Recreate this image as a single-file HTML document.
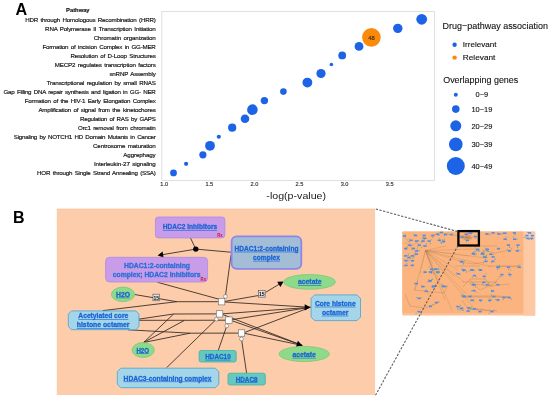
<!DOCTYPE html>
<html><head><meta charset="utf-8"><style>
html,body{margin:0;padding:0;background:#fff;}
svg{display:block;}
</style></head><body>
<svg width="550" height="398" viewBox="0 0 550 398">
<rect width="550" height="398" fill="#fff"/>
<text x="15.6" y="14.6" font-family="'Liberation Sans', Arial, sans-serif" font-weight="bold" font-size="15.7" fill="#000" textLength="11.7" lengthAdjust="spacingAndGlyphs">A</text>
<text x="66.1" y="12.0" font-family="'Liberation Sans', Arial, sans-serif" font-weight="bold" font-size="5.9" fill="#111" stroke="#111" stroke-width="0.15" textLength="23.5" lengthAdjust="spacingAndGlyphs">Pathway</text>
<rect x="161.8" y="11.6" width="272.6" height="168.8" fill="#fff" stroke="#dcdcdc" stroke-width="0.9"/>
<text x="155.6" y="21.55" text-anchor="end" font-family="'Liberation Sans', Arial, sans-serif" font-size="6.2" fill="#111" stroke="#111" stroke-width="0.16" style="letter-spacing:-0.199px;word-spacing:1.0px">HDR through Homologous Recombination (HRR)</text>
<circle cx="421.7" cy="19.30" r="5.4" fill="#1d63e6"/>
<text x="155.6" y="30.59" text-anchor="end" font-family="'Liberation Sans', Arial, sans-serif" font-size="6.2" fill="#111" stroke="#111" stroke-width="0.16" style="letter-spacing:-0.183px;word-spacing:1.0px">RNA Polymerase II Transcription Initiation</text>
<circle cx="397.8" cy="28.34" r="4.7" fill="#1d63e6"/>
<text x="155.6" y="39.62" text-anchor="end" font-family="'Liberation Sans', Arial, sans-serif" font-size="6.2" fill="#111" stroke="#111" stroke-width="0.16" style="letter-spacing:-0.139px;word-spacing:1.0px">Chromatin organization</text>
<circle cx="371.4" cy="37.37" r="9.3" fill="#fb8a0c"/>
<text x="155.6" y="48.66" text-anchor="end" font-family="'Liberation Sans', Arial, sans-serif" font-size="6.2" fill="#111" stroke="#111" stroke-width="0.16" style="letter-spacing:-0.225px;word-spacing:1.0px">Formation of incision Complex in GG-MER</text>
<circle cx="359.0" cy="46.41" r="4.4" fill="#1d63e6"/>
<text x="155.6" y="57.69" text-anchor="end" font-family="'Liberation Sans', Arial, sans-serif" font-size="6.2" fill="#111" stroke="#111" stroke-width="0.16" style="letter-spacing:-0.189px;word-spacing:1.0px">Resolution of D-Loop Structures</text>
<circle cx="342.2" cy="55.44" r="3.9" fill="#1d63e6"/>
<text x="155.6" y="66.72" text-anchor="end" font-family="'Liberation Sans', Arial, sans-serif" font-size="6.2" fill="#111" stroke="#111" stroke-width="0.16" style="letter-spacing:-0.172px;word-spacing:1.0px">MECP2 regulates transcription factors</text>
<circle cx="331.4" cy="64.47" r="1.8" fill="#1d63e6"/>
<text x="155.6" y="75.76" text-anchor="end" font-family="'Liberation Sans', Arial, sans-serif" font-size="6.2" fill="#111" stroke="#111" stroke-width="0.16" style="letter-spacing:-0.182px;word-spacing:1.0px">snRNP Assembly</text>
<circle cx="321.0" cy="73.51" r="4.6" fill="#1d63e6"/>
<text x="155.6" y="84.80" text-anchor="end" font-family="'Liberation Sans', Arial, sans-serif" font-size="6.2" fill="#111" stroke="#111" stroke-width="0.16" style="letter-spacing:-0.191px;word-spacing:1.0px">Transcriptional regulation by small RNAS</text>
<circle cx="307.4" cy="82.55" r="4.9" fill="#1d63e6"/>
<text x="155.6" y="93.83" text-anchor="end" font-family="'Liberation Sans', Arial, sans-serif" font-size="6.2" fill="#111" stroke="#111" stroke-width="0.16" style="letter-spacing:-0.251px;word-spacing:1.0px">Gap Filling DNA repair synthesis and ligation in GG- NER</text>
<circle cx="283.4" cy="91.58" r="3.3" fill="#1d63e6"/>
<text x="155.6" y="102.86" text-anchor="end" font-family="'Liberation Sans', Arial, sans-serif" font-size="6.2" fill="#111" stroke="#111" stroke-width="0.16" style="letter-spacing:-0.221px;word-spacing:1.0px">Formation of the HIV-1 Early Elongation Complex</text>
<circle cx="264.4" cy="100.61" r="3.7" fill="#1d63e6"/>
<text x="155.6" y="111.90" text-anchor="end" font-family="'Liberation Sans', Arial, sans-serif" font-size="6.2" fill="#111" stroke="#111" stroke-width="0.16" style="letter-spacing:-0.198px;word-spacing:1.0px">Amplification of signal from the kinetochores</text>
<circle cx="252.4" cy="109.65" r="5.3" fill="#1d63e6"/>
<text x="155.6" y="120.94" text-anchor="end" font-family="'Liberation Sans', Arial, sans-serif" font-size="6.2" fill="#111" stroke="#111" stroke-width="0.16" style="letter-spacing:-0.261px;word-spacing:1.0px">Regulation of RAS by GAPS</text>
<circle cx="245.0" cy="118.69" r="4.3" fill="#1d63e6"/>
<text x="155.6" y="129.97" text-anchor="end" font-family="'Liberation Sans', Arial, sans-serif" font-size="6.2" fill="#111" stroke="#111" stroke-width="0.16" style="letter-spacing:-0.207px;word-spacing:1.0px">Orc1 removal from chromatin</text>
<circle cx="232.2" cy="127.72" r="4.1" fill="#1d63e6"/>
<text x="155.6" y="139.00" text-anchor="end" font-family="'Liberation Sans', Arial, sans-serif" font-size="6.2" fill="#111" stroke="#111" stroke-width="0.16" style="letter-spacing:-0.250px;word-spacing:1.0px">Signaling by NOTCH1 HD Domain Mutants in Cancer</text>
<circle cx="218.8" cy="136.75" r="2.1" fill="#1d63e6"/>
<text x="155.6" y="148.04" text-anchor="end" font-family="'Liberation Sans', Arial, sans-serif" font-size="6.2" fill="#111" stroke="#111" stroke-width="0.16" style="letter-spacing:-0.147px;word-spacing:1.0px">Centrosome maturation</text>
<circle cx="210.0" cy="145.79" r="4.9" fill="#1d63e6"/>
<text x="155.6" y="157.08" text-anchor="end" font-family="'Liberation Sans', Arial, sans-serif" font-size="6.2" fill="#111" stroke="#111" stroke-width="0.16" style="letter-spacing:-0.108px;word-spacing:1.0px">Aggrephagy</text>
<circle cx="202.9" cy="154.83" r="3.6" fill="#1d63e6"/>
<text x="155.6" y="166.11" text-anchor="end" font-family="'Liberation Sans', Arial, sans-serif" font-size="6.2" fill="#111" stroke="#111" stroke-width="0.16" style="letter-spacing:-0.127px;word-spacing:1.0px">Interleukin-27 signaling</text>
<circle cx="186.1" cy="163.86" r="2.1" fill="#1d63e6"/>
<text x="155.6" y="175.15" text-anchor="end" font-family="'Liberation Sans', Arial, sans-serif" font-size="6.2" fill="#111" stroke="#111" stroke-width="0.16" style="letter-spacing:-0.218px;word-spacing:1.0px">HOR through Single Strand Annealing (SSA)</text>
<circle cx="173.5" cy="172.90" r="3.4" fill="#1d63e6"/>
<text x="371.4" y="39.5" text-anchor="middle" font-family="'Liberation Sans', Arial, sans-serif" font-size="5.8" fill="#3a2608" stroke="#3a2608" stroke-width="0.12">48</text>
<text x="164.2" y="186.0" text-anchor="middle" font-family="'Liberation Sans', Arial, sans-serif" font-size="5.6" fill="#333" stroke="#333" stroke-width="0.15">1.0</text>
<text x="209.3" y="186.0" text-anchor="middle" font-family="'Liberation Sans', Arial, sans-serif" font-size="5.6" fill="#333" stroke="#333" stroke-width="0.15">1.5</text>
<text x="254.4" y="186.0" text-anchor="middle" font-family="'Liberation Sans', Arial, sans-serif" font-size="5.6" fill="#333" stroke="#333" stroke-width="0.15">2.0</text>
<text x="299.5" y="186.0" text-anchor="middle" font-family="'Liberation Sans', Arial, sans-serif" font-size="5.6" fill="#333" stroke="#333" stroke-width="0.15">2.5</text>
<text x="344.6" y="186.0" text-anchor="middle" font-family="'Liberation Sans', Arial, sans-serif" font-size="5.6" fill="#333" stroke="#333" stroke-width="0.15">3.0</text>
<text x="389.7" y="186.0" text-anchor="middle" font-family="'Liberation Sans', Arial, sans-serif" font-size="5.6" fill="#333" stroke="#333" stroke-width="0.15">3.5</text>
<text x="296.2" y="199.0" text-anchor="middle" font-family="'Liberation Sans', Arial, sans-serif" font-size="9.6" fill="#1a1a1a" textLength="59.7" lengthAdjust="spacingAndGlyphs">-log(p-value)</text>
<text x="442.6" y="29.3" font-family="'Liberation Sans', Arial, sans-serif" font-size="9.6" fill="#111" stroke="#111" stroke-width="0.1" textLength="105.4" lengthAdjust="spacingAndGlyphs">Drug&#8722;pathway association</text>
<circle cx="454.6" cy="44.8" r="2.2" fill="#1d63e6"/>
<circle cx="454.6" cy="57.6" r="2.2" fill="#fb8a0c"/>
<text x="462.8" y="46.9" font-family="'Liberation Sans', Arial, sans-serif" font-size="7.7" fill="#111" stroke="#111" stroke-width="0.12" textLength="33.7" lengthAdjust="spacingAndGlyphs">Irrelevant</text>
<text x="462.8" y="59.9" font-family="'Liberation Sans', Arial, sans-serif" font-size="7.7" fill="#111" stroke="#111" stroke-width="0.12" textLength="32.6" lengthAdjust="spacingAndGlyphs">Relevant</text>
<text x="443.2" y="82.9" font-family="'Liberation Sans', Arial, sans-serif" font-size="9.6" fill="#111" stroke="#111" stroke-width="0.1" textLength="75.1" lengthAdjust="spacingAndGlyphs">Overlapping genes</text>
<circle cx="455.8" cy="94.7" r="2.0" fill="#1d63e6"/>
<text x="475.5" y="97.4" font-family="'Liberation Sans', Arial, sans-serif" font-size="7.6" fill="#111" stroke="#111" stroke-width="0.12" textLength="12.6" lengthAdjust="spacingAndGlyphs">0&#8722;9</text>
<circle cx="455.8" cy="109.1" r="3.8" fill="#1d63e6"/>
<text x="471.4" y="111.8" font-family="'Liberation Sans', Arial, sans-serif" font-size="7.6" fill="#111" stroke="#111" stroke-width="0.12" textLength="21.0" lengthAdjust="spacingAndGlyphs">10&#8722;19</text>
<circle cx="455.8" cy="125.8" r="5.5" fill="#1d63e6"/>
<text x="471.4" y="128.5" font-family="'Liberation Sans', Arial, sans-serif" font-size="7.6" fill="#111" stroke="#111" stroke-width="0.12" textLength="21.0" lengthAdjust="spacingAndGlyphs">20&#8722;29</text>
<circle cx="455.8" cy="144.4" r="6.8" fill="#1d63e6"/>
<text x="471.4" y="147.1" font-family="'Liberation Sans', Arial, sans-serif" font-size="7.6" fill="#111" stroke="#111" stroke-width="0.12" textLength="21.0" lengthAdjust="spacingAndGlyphs">30&#8722;39</text>
<circle cx="455.8" cy="166.0" r="9.0" fill="#1d63e6"/>
<text x="471.4" y="168.7" font-family="'Liberation Sans', Arial, sans-serif" font-size="7.6" fill="#111" stroke="#111" stroke-width="0.12" textLength="21.0" lengthAdjust="spacingAndGlyphs">40&#8722;49</text>
<text x="13.0" y="222.5" font-family="'Liberation Sans', Arial, sans-serif" font-weight="bold" font-size="16" fill="#000">B</text>
<rect x="56.8" y="208.8" width="318.3" height="186.2" fill="#fdcdab"/>
<rect x="56.8" y="208.8" width="318.3" height="0.8" fill="#fcc39e"/>
<rect x="402.3" y="231.4" width="132.9" height="84.2" rx="0.8" fill="#fcc199"/>
<rect x="523.4" y="231.6" width="11.8" height="84.0" fill="#fdc9a5"/>
<rect x="402.3" y="231.4" width="121.1" height="81.8" rx="0.8" fill="#fbb47f"/>
<line x1="425.4" y1="250.5" x2="446" y2="246" stroke="#b07c4e" stroke-width="0.32" opacity="0.85"/>
<line x1="425.4" y1="250.5" x2="476" y2="249" stroke="#b07c4e" stroke-width="0.32" opacity="0.85"/>
<line x1="425.4" y1="250.5" x2="492" y2="267" stroke="#b07c4e" stroke-width="0.32" opacity="0.85"/>
<line x1="425.4" y1="250.5" x2="462" y2="262" stroke="#b07c4e" stroke-width="0.32" opacity="0.85"/>
<line x1="425.4" y1="250.5" x2="458" y2="270" stroke="#b07c4e" stroke-width="0.32" opacity="0.85"/>
<line x1="425.4" y1="250.5" x2="464" y2="282" stroke="#b07c4e" stroke-width="0.32" opacity="0.85"/>
<line x1="425.4" y1="250.5" x2="466" y2="294" stroke="#b07c4e" stroke-width="0.32" opacity="0.85"/>
<line x1="425.4" y1="250.5" x2="474" y2="308" stroke="#b07c4e" stroke-width="0.32" opacity="0.85"/>
<line x1="425.4" y1="250.5" x2="433" y2="264" stroke="#b07c4e" stroke-width="0.32" opacity="0.85"/>
<line x1="425.4" y1="250.5" x2="434" y2="275" stroke="#b07c4e" stroke-width="0.32" opacity="0.85"/>
<line x1="425.4" y1="250.5" x2="438" y2="283" stroke="#b07c4e" stroke-width="0.32" opacity="0.85"/>
<line x1="425.4" y1="250.5" x2="445" y2="300" stroke="#b07c4e" stroke-width="0.32" opacity="0.85"/>
<line x1="425.4" y1="250.5" x2="452" y2="310" stroke="#b07c4e" stroke-width="0.32" opacity="0.85"/>
<line x1="425.4" y1="250.5" x2="420" y2="274" stroke="#b07c4e" stroke-width="0.32" opacity="0.85"/>
<line x1="425.4" y1="250.5" x2="415" y2="290" stroke="#b07c4e" stroke-width="0.32" opacity="0.85"/>
<line x1="425.4" y1="250.5" x2="470" y2="256" stroke="#b07c4e" stroke-width="0.32" opacity="0.85"/>
<line x1="425.4" y1="250.5" x2="455" y2="277" stroke="#b07c4e" stroke-width="0.32" opacity="0.85"/>
<line x1="425.4" y1="250.5" x2="486" y2="258" stroke="#b07c4e" stroke-width="0.32" opacity="0.85"/>
<polyline points="455,266 480,266" fill="none" stroke="#b07c4e" stroke-width="0.35"/>
<polyline points="488,266 520,266" fill="none" stroke="#b07c4e" stroke-width="0.35"/>
<polyline points="462,282 497,282" fill="none" stroke="#b07c4e" stroke-width="0.35"/>
<polyline points="462,297 510,297" fill="none" stroke="#b07c4e" stroke-width="0.35"/>
<polyline points="468,308 497,311" fill="none" stroke="#b07c4e" stroke-width="0.35"/>
<polyline points="470,246 497,246" fill="none" stroke="#b07c4e" stroke-width="0.35"/>
<polyline points="463,287 470,279 485,279 492,287" fill="none" stroke="#b07c4e" stroke-width="0.35"/>
<polyline points="404,236 412,246 418,241" fill="none" stroke="#b07c4e" stroke-width="0.35"/>
<polyline points="405,242 416,252 410,258" fill="none" stroke="#b07c4e" stroke-width="0.35"/>
<polyline points="417,283 414,290 444,293 448,285" fill="none" stroke="#b07c4e" stroke-width="0.35"/>
<polyline points="405,294 410,306 425,308 440,302" fill="none" stroke="#b07c4e" stroke-width="0.35"/>
<polyline points="460,296 475,296 497,296 510,297" fill="none" stroke="#b07c4e" stroke-width="0.35"/>
<polyline points="462,300 468,309 492,311" fill="none" stroke="#b07c4e" stroke-width="0.35"/>
<polyline points="470,280 480,290 495,283 500,276" fill="none" stroke="#b07c4e" stroke-width="0.35"/>
<polyline points="460,262 473,264 485,262" fill="none" stroke="#b07c4e" stroke-width="0.35"/>
<polyline points="482,250 495,253 510,250" fill="none" stroke="#b07c4e" stroke-width="0.35"/>
<polyline points="446,234 460,236 470,233" fill="none" stroke="#b07c4e" stroke-width="0.35"/>
<polyline points="430,236 440,233" fill="none" stroke="#b07c4e" stroke-width="0.35"/>
<polyline points="474,284 490,286 510,284" fill="none" stroke="#b07c4e" stroke-width="0.35"/>
<polyline points="496,266 520,267" fill="none" stroke="#b07c4e" stroke-width="0.35"/>
<rect x="485.5" y="233.2" width="3.2" height="1.6" fill="#5a86ee"/>
<rect x="491.5" y="232.1" width="3.2" height="1.6" fill="#5a86ee"/>
<rect x="497.3" y="233.2" width="3.2" height="1.6" fill="#5a86ee"/>
<rect x="502.9" y="232.4" width="3.2" height="1.6" fill="#5a86ee"/>
<rect x="512.8" y="232.1" width="3.2" height="1.6" fill="#5a86ee"/>
<rect x="503.5" y="238.4" width="3.2" height="1.6" fill="#5a86ee"/>
<rect x="513.1" y="238.4" width="3.2" height="1.6" fill="#5a86ee"/>
<rect x="506.8" y="244.3" width="3.2" height="1.6" fill="#5a86ee"/>
<rect x="516.4" y="244.3" width="3.2" height="1.6" fill="#5a86ee"/>
<rect x="507.8" y="250.1" width="3.2" height="1.6" fill="#5a86ee"/>
<rect x="515.7" y="250.1" width="3.2" height="1.6" fill="#5a86ee"/>
<rect x="496.9" y="247.9" width="3.2" height="1.6" fill="#5a86ee"/>
<rect x="485.5" y="248.5" width="3.2" height="1.6" fill="#5a86ee"/>
<rect x="481.1" y="252.8" width="3.2" height="1.6" fill="#5a86ee"/>
<rect x="489.3" y="253.4" width="3.2" height="1.6" fill="#5a86ee"/>
<rect x="483.3" y="256.4" width="3.2" height="1.6" fill="#5a86ee"/>
<rect x="491.5" y="256.1" width="3.2" height="1.6" fill="#5a86ee"/>
<rect x="484.4" y="260.5" width="3.2" height="1.6" fill="#5a86ee"/>
<rect x="491.3" y="260.5" width="3.2" height="1.6" fill="#5a86ee"/>
<rect x="496.9" y="266.5" width="3.2" height="1.6" fill="#5a86ee"/>
<rect x="506.8" y="266.5" width="3.2" height="1.6" fill="#5a86ee"/>
<rect x="517.7" y="266.5" width="3.2" height="1.6" fill="#5a86ee"/>
<rect x="528.0" y="232.1" width="3.2" height="1.6" fill="#5a86ee"/>
<rect x="525.3" y="234.8" width="3.2" height="1.6" fill="#5a86ee"/>
<rect x="530.7" y="234.8" width="3.2" height="1.6" fill="#5a86ee"/>
<rect x="526.4" y="237.6" width="3.2" height="1.6" fill="#5a86ee"/>
<rect x="530.2" y="237.6" width="3.2" height="1.6" fill="#5a86ee"/>
<rect x="404.4" y="259.9" width="3.2" height="1.6" fill="#5a86ee"/>
<rect x="410.9" y="259.9" width="3.2" height="1.6" fill="#5a86ee"/>
<rect x="404.4" y="264.6" width="3.2" height="1.6" fill="#5a86ee"/>
<rect x="410.6" y="264.6" width="3.2" height="1.6" fill="#5a86ee"/>
<rect x="430.0" y="268.4" width="3.2" height="1.6" fill="#5a86ee"/>
<rect x="434.4" y="268.4" width="3.2" height="1.6" fill="#5a86ee"/>
<rect x="423.5" y="271.4" width="3.2" height="1.6" fill="#5a86ee"/>
<rect x="428.9" y="271.4" width="3.2" height="1.6" fill="#5a86ee"/>
<rect x="436.0" y="271.4" width="3.2" height="1.6" fill="#5a86ee"/>
<rect x="428.4" y="280.1" width="3.2" height="1.6" fill="#5a86ee"/>
<rect x="414.8" y="282.8" width="3.2" height="1.6" fill="#5a86ee"/>
<rect x="421.3" y="285.8" width="3.2" height="1.6" fill="#5a86ee"/>
<rect x="431.7" y="285.8" width="3.2" height="1.6" fill="#5a86ee"/>
<rect x="442.6" y="285.8" width="3.2" height="1.6" fill="#5a86ee"/>
<rect x="424.6" y="290.5" width="3.2" height="1.6" fill="#5a86ee"/>
<rect x="456.7" y="273.0" width="3.2" height="1.6" fill="#5a86ee"/>
<rect x="417.5" y="297.6" width="3.2" height="1.6" fill="#5a86ee"/>
<rect x="434.7" y="301.8" width="3.2" height="1.6" fill="#5a86ee"/>
<rect x="428.9" y="305.6" width="3.2" height="1.6" fill="#5a86ee"/>
<rect x="417.5" y="310.9" width="3.2" height="1.6" fill="#5a86ee"/>
<rect x="456.3" y="305.8" width="3.2" height="1.6" fill="#5a86ee"/>
<rect x="460.1" y="307.7" width="3.2" height="1.6" fill="#5a86ee"/>
<rect x="462.7" y="295.7" width="3.2" height="1.6" fill="#5a86ee"/>
<rect x="466.5" y="310.3" width="3.2" height="1.6" fill="#5a86ee"/>
<rect x="462.4" y="269.3" width="3.2" height="1.6" fill="#5a86ee"/>
<rect x="470.4" y="269.3" width="3.2" height="1.6" fill="#5a86ee"/>
<rect x="479.0" y="269.3" width="3.2" height="1.6" fill="#5a86ee"/>
<rect x="496.3" y="266.6" width="3.2" height="1.6" fill="#5a86ee"/>
<rect x="500.3" y="273.8" width="3.2" height="1.6" fill="#5a86ee"/>
<rect x="508.3" y="273.8" width="3.2" height="1.6" fill="#5a86ee"/>
<rect x="472.8" y="274.8" width="3.2" height="1.6" fill="#5a86ee"/>
<rect x="482.6" y="275.5" width="3.2" height="1.6" fill="#5a86ee"/>
<rect x="471.7" y="283.9" width="3.2" height="1.6" fill="#5a86ee"/>
<rect x="485.7" y="283.9" width="3.2" height="1.6" fill="#5a86ee"/>
<rect x="496.3" y="283.9" width="3.2" height="1.6" fill="#5a86ee"/>
<rect x="472.4" y="289.9" width="3.2" height="1.6" fill="#5a86ee"/>
<rect x="491.0" y="290.2" width="3.2" height="1.6" fill="#5a86ee"/>
<rect x="462.4" y="295.7" width="3.2" height="1.6" fill="#5a86ee"/>
<rect x="468.4" y="295.7" width="3.2" height="1.6" fill="#5a86ee"/>
<rect x="492.3" y="295.7" width="3.2" height="1.6" fill="#5a86ee"/>
<rect x="470.4" y="299.5" width="3.2" height="1.6" fill="#5a86ee"/>
<rect x="479.0" y="299.5" width="3.2" height="1.6" fill="#5a86ee"/>
<rect x="488.3" y="299.5" width="3.2" height="1.6" fill="#5a86ee"/>
<rect x="496.3" y="299.1" width="3.2" height="1.6" fill="#5a86ee"/>
<rect x="502.3" y="296.8" width="3.2" height="1.6" fill="#5a86ee"/>
<rect x="507.6" y="296.8" width="3.2" height="1.6" fill="#5a86ee"/>
<rect x="459.7" y="307.5" width="3.2" height="1.6" fill="#5a86ee"/>
<rect x="467.1" y="307.1" width="3.2" height="1.6" fill="#5a86ee"/>
<rect x="473.0" y="308.1" width="3.2" height="1.6" fill="#5a86ee"/>
<rect x="478.4" y="310.8" width="3.2" height="1.6" fill="#5a86ee"/>
<rect x="490.3" y="310.8" width="3.2" height="1.6" fill="#5a86ee"/>
<rect x="475.9" y="248.7" width="3.2" height="1.6" fill="#5a86ee"/>
<rect x="472.0" y="252.7" width="3.2" height="1.6" fill="#5a86ee"/>
<rect x="481.0" y="252.7" width="3.2" height="1.6" fill="#5a86ee"/>
<rect x="460.1" y="260.9" width="3.2" height="1.6" fill="#5a86ee"/>
<rect x="461.8" y="269.1" width="3.2" height="1.6" fill="#5a86ee"/>
<rect x="470.3" y="269.1" width="3.2" height="1.6" fill="#5a86ee"/>
<rect x="478.8" y="269.1" width="3.2" height="1.6" fill="#5a86ee"/>
<rect x="434.1" y="268.5" width="3.2" height="1.6" fill="#5a86ee"/>
<rect x="429.0" y="271.3" width="3.2" height="1.6" fill="#5a86ee"/>
<rect x="436.4" y="271.3" width="3.2" height="1.6" fill="#5a86ee"/>
<rect x="428.5" y="280.1" width="3.2" height="1.6" fill="#5a86ee"/>
<rect x="431.9" y="285.4" width="3.2" height="1.6" fill="#5a86ee"/>
<rect x="442.0" y="285.4" width="3.2" height="1.6" fill="#5a86ee"/>
<rect x="472.6" y="284.0" width="3.2" height="1.6" fill="#5a86ee"/>
<rect x="482.2" y="281.5" width="3.2" height="1.6" fill="#5a86ee"/>
<rect x="402.9" y="235.2" width="3.2" height="1.6" fill="#5a86ee"/>
<rect x="414.0" y="234.7" width="3.2" height="1.6" fill="#5a86ee"/>
<rect x="422.6" y="234.7" width="3.2" height="1.6" fill="#5a86ee"/>
<rect x="431.2" y="234.7" width="3.2" height="1.6" fill="#5a86ee"/>
<rect x="423.0" y="237.4" width="3.2" height="1.6" fill="#5a86ee"/>
<rect x="414.8" y="240.3" width="3.2" height="1.6" fill="#5a86ee"/>
<rect x="421.4" y="240.3" width="3.2" height="1.6" fill="#5a86ee"/>
<rect x="427.5" y="240.3" width="3.2" height="1.6" fill="#5a86ee"/>
<rect x="409.5" y="239.5" width="3.2" height="1.6" fill="#5a86ee"/>
<rect x="417.7" y="244.4" width="3.2" height="1.6" fill="#5a86ee"/>
<rect x="423.4" y="245.2" width="3.2" height="1.6" fill="#5a86ee"/>
<rect x="408.2" y="244.4" width="3.2" height="1.6" fill="#5a86ee"/>
<rect x="404.1" y="247.7" width="3.2" height="1.6" fill="#5a86ee"/>
<rect x="411.9" y="247.7" width="3.2" height="1.6" fill="#5a86ee"/>
<rect x="415.2" y="250.2" width="3.2" height="1.6" fill="#5a86ee"/>
<rect x="414.8" y="253.3" width="3.2" height="1.6" fill="#5a86ee"/>
<rect x="404.1" y="255.1" width="3.2" height="1.6" fill="#5a86ee"/>
<rect x="410.7" y="255.1" width="3.2" height="1.6" fill="#5a86ee"/>
<rect x="407.4" y="256.7" width="3.2" height="1.6" fill="#5a86ee"/>
<rect x="439.8" y="231.7" width="3.2" height="1.6" fill="#5a86ee"/>
<rect x="436.1" y="233.6" width="3.2" height="1.6" fill="#5a86ee"/>
<rect x="437.7" y="239.5" width="3.2" height="1.6" fill="#5a86ee"/>
<rect x="441.8" y="240.7" width="3.2" height="1.6" fill="#5a86ee"/>
<rect x="443.9" y="233.7" width="3.2" height="1.6" fill="#5a86ee"/>
<rect x="449.8" y="233.7" width="3.2" height="1.6" fill="#5a86ee"/>
<rect x="442.0" y="240.7" width="3.2" height="1.6" fill="#5a86ee"/>
<rect x="460.2" y="236.3" width="3.2" height="1.6" fill="#5a86ee"/>
<rect x="464.8" y="233.7" width="3.2" height="1.6" fill="#5a86ee"/>
<rect x="468.9" y="232.5" width="3.2" height="1.6" fill="#5a86ee"/>
<rect x="473.9" y="235.8" width="3.2" height="1.6" fill="#5a86ee"/>
<rect x="465.7" y="239.5" width="3.2" height="1.6" fill="#5a86ee"/>
<rect x="476.1" y="248.8" width="3.2" height="1.6" fill="#5a86ee"/>
<rect x="485.7" y="248.8" width="3.2" height="1.6" fill="#5a86ee"/>
<rect x="471.6" y="253.1" width="3.2" height="1.6" fill="#5a86ee"/>
<rect x="480.7" y="253.1" width="3.2" height="1.6" fill="#5a86ee"/>
<rect x="483.4" y="256.5" width="3.2" height="1.6" fill="#5a86ee"/>
<rect x="460.2" y="260.8" width="3.2" height="1.6" fill="#5a86ee"/>
<circle cx="485.5" cy="234.2" r="0.55" fill="#58b08a"/>
<circle cx="486.3" cy="234.5" r="0.55" fill="#58b08a"/>
<circle cx="490.2" cy="234.6" r="0.55" fill="#58b08a"/>
<circle cx="497.5" cy="232.7" r="0.55" fill="#58b08a"/>
<circle cx="501.9" cy="233.9" r="0.55" fill="#58b08a"/>
<circle cx="506.5" cy="233.1" r="0.55" fill="#58b08a"/>
<circle cx="515.2" cy="234.7" r="0.55" fill="#58b08a"/>
<circle cx="514.5" cy="234.1" r="0.55" fill="#58b08a"/>
<circle cx="506.1" cy="237.0" r="0.55" fill="#58b08a"/>
<circle cx="506.6" cy="239.7" r="0.55" fill="#58b08a"/>
<circle cx="513.5" cy="236.9" r="0.55" fill="#58b08a"/>
<circle cx="516.9" cy="239.1" r="0.55" fill="#58b08a"/>
<circle cx="509.7" cy="247.0" r="0.55" fill="#58b08a"/>
<circle cx="509.7" cy="247.2" r="0.55" fill="#58b08a"/>
<circle cx="517.4" cy="246.6" r="0.55" fill="#58b08a"/>
<circle cx="517.7" cy="247.3" r="0.55" fill="#58b08a"/>
<circle cx="511.7" cy="248.9" r="0.55" fill="#58b08a"/>
<circle cx="507.2" cy="249.5" r="0.55" fill="#58b08a"/>
<circle cx="520.1" cy="250.6" r="0.55" fill="#58b08a"/>
<circle cx="518.1" cy="249.9" r="0.55" fill="#58b08a"/>
<circle cx="498.5" cy="248.1" r="0.55" fill="#58b08a"/>
<circle cx="497.6" cy="249.1" r="0.55" fill="#58b08a"/>
<circle cx="487.6" cy="251.3" r="0.55" fill="#58b08a"/>
<circle cx="488.2" cy="251.4" r="0.55" fill="#58b08a"/>
<circle cx="484.8" cy="256.1" r="0.55" fill="#58b08a"/>
<circle cx="483.7" cy="251.9" r="0.55" fill="#58b08a"/>
<circle cx="493.1" cy="256.5" r="0.55" fill="#58b08a"/>
<circle cx="493.3" cy="254.5" r="0.55" fill="#58b08a"/>
<circle cx="486.2" cy="255.8" r="0.55" fill="#58b08a"/>
<circle cx="486.9" cy="257.6" r="0.55" fill="#58b08a"/>
<circle cx="491.8" cy="254.7" r="0.55" fill="#58b08a"/>
<circle cx="495.2" cy="259.3" r="0.55" fill="#58b08a"/>
<circle cx="483.5" cy="262.8" r="0.55" fill="#58b08a"/>
<circle cx="485.5" cy="259.6" r="0.55" fill="#58b08a"/>
<circle cx="491.7" cy="262.6" r="0.55" fill="#58b08a"/>
<circle cx="495.1" cy="259.0" r="0.55" fill="#58b08a"/>
<circle cx="499.2" cy="265.0" r="0.55" fill="#58b08a"/>
<circle cx="499.8" cy="266.5" r="0.55" fill="#58b08a"/>
<circle cx="510.7" cy="269.7" r="0.55" fill="#58b08a"/>
<circle cx="508.4" cy="269.8" r="0.55" fill="#58b08a"/>
<circle cx="518.2" cy="265.2" r="0.55" fill="#58b08a"/>
<circle cx="519.9" cy="265.0" r="0.55" fill="#58b08a"/>
<circle cx="527.8" cy="232.4" r="0.55" fill="#58b08a"/>
<circle cx="524.2" cy="237.4" r="0.55" fill="#58b08a"/>
<circle cx="525.8" cy="237.9" r="0.55" fill="#58b08a"/>
<circle cx="532.1" cy="235.7" r="0.55" fill="#58b08a"/>
<circle cx="528.9" cy="238.9" r="0.55" fill="#58b08a"/>
<circle cx="528.4" cy="239.0" r="0.55" fill="#58b08a"/>
<circle cx="531.4" cy="239.5" r="0.55" fill="#58b08a"/>
<circle cx="404.4" cy="259.7" r="0.55" fill="#58b08a"/>
<circle cx="408.9" cy="260.8" r="0.55" fill="#58b08a"/>
<circle cx="412.8" cy="258.3" r="0.55" fill="#58b08a"/>
<circle cx="412.0" cy="261.1" r="0.55" fill="#58b08a"/>
<circle cx="403.1" cy="266.0" r="0.55" fill="#58b08a"/>
<circle cx="406.8" cy="263.2" r="0.55" fill="#58b08a"/>
<circle cx="413.0" cy="265.2" r="0.55" fill="#58b08a"/>
<circle cx="413.3" cy="264.7" r="0.55" fill="#58b08a"/>
<circle cx="432.8" cy="270.4" r="0.55" fill="#58b08a"/>
<circle cx="428.7" cy="267.0" r="0.55" fill="#58b08a"/>
<circle cx="437.1" cy="271.5" r="0.55" fill="#58b08a"/>
<circle cx="434.5" cy="269.0" r="0.55" fill="#58b08a"/>
<circle cx="425.7" cy="271.3" r="0.55" fill="#58b08a"/>
<circle cx="424.3" cy="271.3" r="0.55" fill="#58b08a"/>
<circle cx="429.7" cy="272.7" r="0.55" fill="#58b08a"/>
<circle cx="429.3" cy="271.6" r="0.55" fill="#58b08a"/>
<circle cx="439.2" cy="269.8" r="0.55" fill="#58b08a"/>
<circle cx="438.0" cy="273.4" r="0.55" fill="#58b08a"/>
<circle cx="428.9" cy="279.5" r="0.55" fill="#58b08a"/>
<circle cx="431.8" cy="279.6" r="0.55" fill="#58b08a"/>
<circle cx="414.5" cy="283.3" r="0.55" fill="#58b08a"/>
<circle cx="417.6" cy="281.6" r="0.55" fill="#58b08a"/>
<circle cx="421.8" cy="285.8" r="0.55" fill="#58b08a"/>
<circle cx="424.9" cy="286.3" r="0.55" fill="#58b08a"/>
<circle cx="435.4" cy="284.9" r="0.55" fill="#58b08a"/>
<circle cx="432.3" cy="287.4" r="0.55" fill="#58b08a"/>
<circle cx="446.5" cy="286.4" r="0.55" fill="#58b08a"/>
<circle cx="442.6" cy="284.7" r="0.55" fill="#58b08a"/>
<circle cx="426.4" cy="289.8" r="0.55" fill="#58b08a"/>
<circle cx="428.0" cy="293.0" r="0.55" fill="#58b08a"/>
<circle cx="456.4" cy="272.7" r="0.55" fill="#58b08a"/>
<circle cx="460.1" cy="274.5" r="0.55" fill="#58b08a"/>
<circle cx="420.9" cy="297.6" r="0.55" fill="#58b08a"/>
<circle cx="416.9" cy="297.4" r="0.55" fill="#58b08a"/>
<circle cx="438.1" cy="301.5" r="0.55" fill="#58b08a"/>
<circle cx="435.4" cy="302.2" r="0.55" fill="#58b08a"/>
<circle cx="430.0" cy="305.9" r="0.55" fill="#58b08a"/>
<circle cx="433.0" cy="304.7" r="0.55" fill="#58b08a"/>
<circle cx="416.1" cy="313.9" r="0.55" fill="#58b08a"/>
<circle cx="421.4" cy="314.1" r="0.55" fill="#58b08a"/>
<circle cx="457.5" cy="308.9" r="0.55" fill="#58b08a"/>
<circle cx="460.5" cy="305.2" r="0.55" fill="#58b08a"/>
<circle cx="463.2" cy="310.2" r="0.55" fill="#58b08a"/>
<circle cx="462.7" cy="308.6" r="0.55" fill="#58b08a"/>
<circle cx="463.0" cy="295.7" r="0.55" fill="#58b08a"/>
<circle cx="462.7" cy="294.3" r="0.55" fill="#58b08a"/>
<circle cx="468.6" cy="310.0" r="0.55" fill="#58b08a"/>
<circle cx="470.0" cy="308.8" r="0.55" fill="#58b08a"/>
<circle cx="466.4" cy="271.1" r="0.55" fill="#58b08a"/>
<circle cx="466.5" cy="272.1" r="0.55" fill="#58b08a"/>
<circle cx="474.4" cy="270.5" r="0.55" fill="#58b08a"/>
<circle cx="469.1" cy="271.3" r="0.55" fill="#58b08a"/>
<circle cx="478.6" cy="269.1" r="0.55" fill="#58b08a"/>
<circle cx="481.6" cy="270.2" r="0.55" fill="#58b08a"/>
<circle cx="497.4" cy="269.6" r="0.55" fill="#58b08a"/>
<circle cx="498.6" cy="266.6" r="0.55" fill="#58b08a"/>
<circle cx="500.4" cy="276.4" r="0.55" fill="#58b08a"/>
<circle cx="501.8" cy="276.0" r="0.55" fill="#58b08a"/>
<circle cx="509.0" cy="273.1" r="0.55" fill="#58b08a"/>
<circle cx="510.1" cy="276.2" r="0.55" fill="#58b08a"/>
<circle cx="472.4" cy="277.1" r="0.55" fill="#58b08a"/>
<circle cx="476.9" cy="277.1" r="0.55" fill="#58b08a"/>
<circle cx="486.1" cy="273.8" r="0.55" fill="#58b08a"/>
<circle cx="485.0" cy="278.1" r="0.55" fill="#58b08a"/>
<circle cx="470.6" cy="283.6" r="0.55" fill="#58b08a"/>
<circle cx="471.9" cy="284.8" r="0.55" fill="#58b08a"/>
<circle cx="486.8" cy="284.6" r="0.55" fill="#58b08a"/>
<circle cx="489.0" cy="282.2" r="0.55" fill="#58b08a"/>
<circle cx="495.2" cy="282.8" r="0.55" fill="#58b08a"/>
<circle cx="495.6" cy="282.5" r="0.55" fill="#58b08a"/>
<circle cx="476.8" cy="292.5" r="0.55" fill="#58b08a"/>
<circle cx="471.5" cy="290.7" r="0.55" fill="#58b08a"/>
<circle cx="491.5" cy="290.1" r="0.55" fill="#58b08a"/>
<circle cx="491.7" cy="291.7" r="0.55" fill="#58b08a"/>
<circle cx="464.5" cy="295.8" r="0.55" fill="#58b08a"/>
<circle cx="462.1" cy="295.6" r="0.55" fill="#58b08a"/>
<circle cx="467.7" cy="296.8" r="0.55" fill="#58b08a"/>
<circle cx="471.3" cy="295.9" r="0.55" fill="#58b08a"/>
<circle cx="491.4" cy="294.9" r="0.55" fill="#58b08a"/>
<circle cx="493.1" cy="297.0" r="0.55" fill="#58b08a"/>
<circle cx="473.7" cy="299.7" r="0.55" fill="#58b08a"/>
<circle cx="473.8" cy="300.9" r="0.55" fill="#58b08a"/>
<circle cx="480.2" cy="299.7" r="0.55" fill="#58b08a"/>
<circle cx="480.6" cy="301.3" r="0.55" fill="#58b08a"/>
<circle cx="489.4" cy="301.3" r="0.55" fill="#58b08a"/>
<circle cx="489.7" cy="299.0" r="0.55" fill="#58b08a"/>
<circle cx="498.1" cy="300.9" r="0.55" fill="#58b08a"/>
<circle cx="495.3" cy="299.5" r="0.55" fill="#58b08a"/>
<circle cx="503.5" cy="299.5" r="0.55" fill="#58b08a"/>
<circle cx="506.5" cy="297.0" r="0.55" fill="#58b08a"/>
<circle cx="511.6" cy="299.1" r="0.55" fill="#58b08a"/>
<circle cx="507.8" cy="297.4" r="0.55" fill="#58b08a"/>
<circle cx="459.0" cy="309.9" r="0.55" fill="#58b08a"/>
<circle cx="462.3" cy="310.2" r="0.55" fill="#58b08a"/>
<circle cx="470.5" cy="308.7" r="0.55" fill="#58b08a"/>
<circle cx="470.1" cy="308.2" r="0.55" fill="#58b08a"/>
<circle cx="472.2" cy="309.3" r="0.55" fill="#58b08a"/>
<circle cx="471.6" cy="307.1" r="0.55" fill="#58b08a"/>
<circle cx="481.6" cy="309.3" r="0.55" fill="#58b08a"/>
<circle cx="477.6" cy="309.6" r="0.55" fill="#58b08a"/>
<circle cx="494.2" cy="310.0" r="0.55" fill="#58b08a"/>
<circle cx="489.0" cy="313.3" r="0.55" fill="#58b08a"/>
<circle cx="475.2" cy="251.2" r="0.55" fill="#58b08a"/>
<circle cx="478.5" cy="251.2" r="0.55" fill="#58b08a"/>
<circle cx="476.3" cy="253.9" r="0.55" fill="#58b08a"/>
<circle cx="475.4" cy="251.2" r="0.55" fill="#58b08a"/>
<circle cx="484.2" cy="253.6" r="0.55" fill="#58b08a"/>
<circle cx="483.9" cy="251.5" r="0.55" fill="#58b08a"/>
<circle cx="463.2" cy="263.9" r="0.55" fill="#58b08a"/>
<circle cx="459.1" cy="260.8" r="0.55" fill="#58b08a"/>
<circle cx="463.8" cy="271.5" r="0.55" fill="#58b08a"/>
<circle cx="461.9" cy="268.3" r="0.55" fill="#58b08a"/>
<circle cx="470.4" cy="270.5" r="0.55" fill="#58b08a"/>
<circle cx="473.4" cy="269.4" r="0.55" fill="#58b08a"/>
<circle cx="479.6" cy="269.4" r="0.55" fill="#58b08a"/>
<circle cx="479.5" cy="269.5" r="0.55" fill="#58b08a"/>
<circle cx="433.2" cy="269.3" r="0.55" fill="#58b08a"/>
<circle cx="438.5" cy="268.9" r="0.55" fill="#58b08a"/>
<circle cx="432.1" cy="270.4" r="0.55" fill="#58b08a"/>
<circle cx="431.7" cy="273.4" r="0.55" fill="#58b08a"/>
<circle cx="439.0" cy="272.2" r="0.55" fill="#58b08a"/>
<circle cx="437.9" cy="272.8" r="0.55" fill="#58b08a"/>
<circle cx="432.5" cy="279.1" r="0.55" fill="#58b08a"/>
<circle cx="427.7" cy="282.1" r="0.55" fill="#58b08a"/>
<circle cx="436.0" cy="286.3" r="0.55" fill="#58b08a"/>
<circle cx="433.2" cy="287.3" r="0.55" fill="#58b08a"/>
<circle cx="441.7" cy="285.0" r="0.55" fill="#58b08a"/>
<circle cx="441.8" cy="286.6" r="0.55" fill="#58b08a"/>
<circle cx="473.1" cy="283.5" r="0.55" fill="#58b08a"/>
<circle cx="475.3" cy="287.1" r="0.55" fill="#58b08a"/>
<circle cx="482.6" cy="283.3" r="0.55" fill="#58b08a"/>
<circle cx="483.3" cy="284.1" r="0.55" fill="#58b08a"/>
<circle cx="405.0" cy="234.8" r="0.55" fill="#58b08a"/>
<circle cx="415.5" cy="234.9" r="0.55" fill="#58b08a"/>
<circle cx="413.6" cy="234.8" r="0.55" fill="#58b08a"/>
<circle cx="423.1" cy="236.9" r="0.55" fill="#58b08a"/>
<circle cx="422.1" cy="238.0" r="0.55" fill="#58b08a"/>
<circle cx="432.7" cy="236.0" r="0.55" fill="#58b08a"/>
<circle cx="432.6" cy="237.2" r="0.55" fill="#58b08a"/>
<circle cx="426.5" cy="238.5" r="0.55" fill="#58b08a"/>
<circle cx="424.5" cy="239.3" r="0.55" fill="#58b08a"/>
<circle cx="418.5" cy="240.6" r="0.55" fill="#58b08a"/>
<circle cx="417.8" cy="243.4" r="0.55" fill="#58b08a"/>
<circle cx="422.8" cy="239.7" r="0.55" fill="#58b08a"/>
<circle cx="421.4" cy="242.2" r="0.55" fill="#58b08a"/>
<circle cx="430.2" cy="243.4" r="0.55" fill="#58b08a"/>
<circle cx="431.2" cy="239.8" r="0.55" fill="#58b08a"/>
<circle cx="409.2" cy="239.1" r="0.55" fill="#58b08a"/>
<circle cx="409.2" cy="241.3" r="0.55" fill="#58b08a"/>
<circle cx="421.5" cy="247.2" r="0.55" fill="#58b08a"/>
<circle cx="417.8" cy="247.0" r="0.55" fill="#58b08a"/>
<circle cx="423.9" cy="245.6" r="0.55" fill="#58b08a"/>
<circle cx="426.4" cy="243.9" r="0.55" fill="#58b08a"/>
<circle cx="407.4" cy="246.9" r="0.55" fill="#58b08a"/>
<circle cx="408.6" cy="244.5" r="0.55" fill="#58b08a"/>
<circle cx="406.2" cy="249.4" r="0.55" fill="#58b08a"/>
<circle cx="413.1" cy="248.4" r="0.55" fill="#58b08a"/>
<circle cx="411.8" cy="248.9" r="0.55" fill="#58b08a"/>
<circle cx="419.5" cy="250.5" r="0.55" fill="#58b08a"/>
<circle cx="417.1" cy="249.1" r="0.55" fill="#58b08a"/>
<circle cx="415.0" cy="254.9" r="0.55" fill="#58b08a"/>
<circle cx="414.1" cy="256.0" r="0.55" fill="#58b08a"/>
<circle cx="408.2" cy="253.9" r="0.55" fill="#58b08a"/>
<circle cx="408.3" cy="255.3" r="0.55" fill="#58b08a"/>
<circle cx="413.9" cy="257.2" r="0.55" fill="#58b08a"/>
<circle cx="411.1" cy="256.8" r="0.55" fill="#58b08a"/>
<circle cx="409.9" cy="259.0" r="0.55" fill="#58b08a"/>
<circle cx="407.6" cy="258.8" r="0.55" fill="#58b08a"/>
<circle cx="444.2" cy="233.4" r="0.55" fill="#58b08a"/>
<circle cx="437.7" cy="233.7" r="0.55" fill="#58b08a"/>
<circle cx="439.0" cy="235.3" r="0.55" fill="#58b08a"/>
<circle cx="439.7" cy="238.7" r="0.55" fill="#58b08a"/>
<circle cx="440.2" cy="241.0" r="0.55" fill="#58b08a"/>
<circle cx="441.5" cy="243.4" r="0.55" fill="#58b08a"/>
<circle cx="444.3" cy="239.6" r="0.55" fill="#58b08a"/>
<circle cx="448.1" cy="232.7" r="0.55" fill="#58b08a"/>
<circle cx="444.5" cy="235.6" r="0.55" fill="#58b08a"/>
<circle cx="452.0" cy="234.8" r="0.55" fill="#58b08a"/>
<circle cx="452.3" cy="234.3" r="0.55" fill="#58b08a"/>
<circle cx="442.5" cy="239.9" r="0.55" fill="#58b08a"/>
<circle cx="441.0" cy="242.6" r="0.55" fill="#58b08a"/>
<circle cx="463.3" cy="237.3" r="0.55" fill="#58b08a"/>
<circle cx="463.2" cy="236.4" r="0.55" fill="#58b08a"/>
<circle cx="465.0" cy="233.9" r="0.55" fill="#58b08a"/>
<circle cx="468.6" cy="232.2" r="0.55" fill="#58b08a"/>
<circle cx="470.5" cy="232.0" r="0.55" fill="#58b08a"/>
<circle cx="472.1" cy="232.6" r="0.55" fill="#58b08a"/>
<circle cx="474.5" cy="236.1" r="0.55" fill="#58b08a"/>
<circle cx="475.7" cy="238.0" r="0.55" fill="#58b08a"/>
<circle cx="466.4" cy="242.0" r="0.55" fill="#58b08a"/>
<circle cx="465.0" cy="239.2" r="0.55" fill="#58b08a"/>
<circle cx="475.3" cy="247.7" r="0.55" fill="#58b08a"/>
<circle cx="479.4" cy="250.7" r="0.55" fill="#58b08a"/>
<circle cx="485.4" cy="248.0" r="0.55" fill="#58b08a"/>
<circle cx="486.8" cy="250.8" r="0.55" fill="#58b08a"/>
<circle cx="475.1" cy="255.1" r="0.55" fill="#58b08a"/>
<circle cx="473.8" cy="252.1" r="0.55" fill="#58b08a"/>
<circle cx="481.7" cy="252.4" r="0.55" fill="#58b08a"/>
<circle cx="482.5" cy="254.2" r="0.55" fill="#58b08a"/>
<circle cx="483.2" cy="256.1" r="0.55" fill="#58b08a"/>
<circle cx="486.7" cy="255.0" r="0.55" fill="#58b08a"/>
<circle cx="463.6" cy="263.6" r="0.55" fill="#58b08a"/>
<circle cx="464.5" cy="261.0" r="0.55" fill="#58b08a"/>
<ellipse cx="467.3" cy="237.6" rx="4.2" ry="2.4" fill="#c8956a" opacity="0.55"/>
<line x1="462" y1="236" x2="472" y2="239" stroke="#a07050" stroke-width="0.35"/>
<line x1="463" y1="239" x2="471" y2="235" stroke="#a07050" stroke-width="0.35"/>
<line x1="465" y1="234" x2="469" y2="241" stroke="#a07050" stroke-width="0.35"/>
<line x1="461" y1="238" x2="474" y2="237" stroke="#a07050" stroke-width="0.35"/>
<rect x="465.5" y="233.6" width="3" height="1.3" fill="#9a6cf0"/>
<rect x="458.4" y="231.1" width="20.5" height="14.4" fill="none" stroke="#000" stroke-width="2.3"/>
<line x1="375.8" y1="208.9" x2="457.6" y2="231.5" stroke="#5a5a5a" stroke-width="1.05" stroke-dasharray="2.3 1.45"/>
<line x1="375.5" y1="395.3" x2="457.6" y2="246.3" stroke="#5a5a5a" stroke-width="1.05" stroke-dasharray="2.3 1.45"/>
<polyline points="190.5,238.0 195.8,249.1" fill="none" stroke="#2f2622" stroke-width="0.85"/>
<polyline points="195.8,249.1 230.8,252.2" fill="none" stroke="#2f2622" stroke-width="0.85"/>
<polyline points="195.8,249.1 160.5,255.0" fill="none" stroke="#2f2622" stroke-width="0.85"/>
<polyline points="231.0,255.0 225.4,296.4" fill="none" stroke="#2f2622" stroke-width="0.85"/>
<polyline points="157.5,282.3 218.3,299.0" fill="none" stroke="#2f2622" stroke-width="0.85"/>
<polyline points="134.6,294.5 176.8,301.7" fill="none" stroke="#2f2622" stroke-width="0.85"/>
<polyline points="102.9,310.6 176.8,301.7" fill="none" stroke="#2f2622" stroke-width="0.85"/>
<polyline points="176.8,301.7 218.3,301.7" fill="none" stroke="#2f2622" stroke-width="0.85"/>
<polyline points="225.0,301.4 258.6,295.5" fill="none" stroke="#2f2622" stroke-width="0.85"/>
<polyline points="265.6,292.4 280.5,283.4" fill="none" stroke="#2f2622" stroke-width="0.85"/>
<polyline points="225.0,302.0 310.3,307.3" fill="none" stroke="#2f2622" stroke-width="0.85"/>
<polyline points="138.4,319.2 173.6,314.0" fill="none" stroke="#2f2622" stroke-width="0.85"/>
<polyline points="143.6,342.5 173.6,314.0" fill="none" stroke="#2f2622" stroke-width="0.85"/>
<polyline points="173.6,314.0 216.4,313.9" fill="none" stroke="#2f2622" stroke-width="0.85"/>
<polyline points="222.9,313.8 310.3,307.3" fill="none" stroke="#2f2622" stroke-width="0.85"/>
<polyline points="222.9,314.6 302.3,345.4" fill="none" stroke="#2f2622" stroke-width="0.85"/>
<polyline points="138.4,320.3 184.5,320.3" fill="none" stroke="#2f2622" stroke-width="0.85"/>
<polyline points="143.6,342.5 184.5,320.3" fill="none" stroke="#2f2622" stroke-width="0.85"/>
<polyline points="184.5,320.3 225.6,320.2" fill="none" stroke="#2f2622" stroke-width="0.85"/>
<polyline points="232.2,319.6 310.3,307.3" fill="none" stroke="#2f2622" stroke-width="0.85"/>
<polyline points="232.2,320.8 302.3,345.4" fill="none" stroke="#2f2622" stroke-width="0.85"/>
<polyline points="128.0,329.8 190.0,333.2" fill="none" stroke="#2f2622" stroke-width="0.85"/>
<polyline points="143.6,342.5 190.0,333.2" fill="none" stroke="#2f2622" stroke-width="0.85"/>
<polyline points="190.0,333.2 238.2,333.1" fill="none" stroke="#2f2622" stroke-width="0.85"/>
<polyline points="244.8,332.4 310.3,307.3" fill="none" stroke="#2f2622" stroke-width="0.85"/>
<polyline points="244.8,333.4 302.3,345.4" fill="none" stroke="#2f2622" stroke-width="0.85"/>
<polyline points="166.5,367.8 216.4,319.2" fill="none" stroke="#2f2622" stroke-width="0.85"/>
<polyline points="218.2,350.5 226.8,325.9" fill="none" stroke="#2f2622" stroke-width="0.85"/>
<polyline points="246.6,373.2 241.5,339.0" fill="none" stroke="#2f2622" stroke-width="0.85"/>
<polygon points="310.3,307.3 304.7,310.4 304.7,304.2" fill="#000"/>
<polygon points="283.6,281.6 280.4,287.1 277.2,281.8" fill="#000"/>
<polygon points="302.3,345.4 296.0,346.7 297.9,340.8" fill="#000"/>
<polygon points="157.6,255.5 162.6,251.5 163.6,257.6" fill="#000"/>
<circle cx="195.8" cy="249.1" r="2.7" fill="#000"/>
<rect x="155.4" y="217.0" width="69.5" height="20.9" rx="3" fill="#c99ce9" stroke="#a98ae2" stroke-width="0.8"/>
<text x="162.8" y="229.4" font-family="'Liberation Sans', Arial, sans-serif" font-weight="bold" font-size="7.0" fill="#1a64d6" stroke="#1a64d6" stroke-width="0.3" textLength="54.4" lengthAdjust="spacingAndGlyphs">HDAC2 inhibitors</text>
<rect x="162.8" y="230.3" width="54.4" height="0.6" fill="#1a64d6"/>
<text x="217.3" y="236.6" font-family="'Liberation Sans', Arial, sans-serif" font-weight="bold" font-size="5" fill="#d8102a" textLength="5.4" lengthAdjust="spacingAndGlyphs">Rx</text>
<rect x="105.6" y="257.3" width="102.0" height="24.7" rx="4" fill="#c99ce9" stroke="#a98ae2" stroke-width="0.8"/>
<text x="124.0" y="267.9" font-family="'Liberation Sans', Arial, sans-serif" font-weight="bold" font-size="7.0" fill="#2a6ed8" stroke="#2a6ed8" stroke-width="0.3" textLength="66.0" lengthAdjust="spacingAndGlyphs">HDAC1:2-containing</text>
<text x="112.8" y="277.1" font-family="'Liberation Sans', Arial, sans-serif" font-weight="bold" font-size="7.0" fill="#2a6ed8" stroke="#2a6ed8" stroke-width="0.3" textLength="87.7" lengthAdjust="spacingAndGlyphs">complex; HDAC2 inhibitors</text>
<text x="200.6" y="281.0" font-family="'Liberation Sans', Arial, sans-serif" font-weight="bold" font-size="5" fill="#d8102a" textLength="5.4" lengthAdjust="spacingAndGlyphs">Rx</text>
<rect x="231.6" y="236.4" width="69.7" height="32.4" rx="5" fill="#a3bdd6" stroke="#8b86e8" stroke-width="1.8"/>
<text x="234.5" y="250.8" font-family="'Liberation Sans', Arial, sans-serif" font-weight="bold" font-size="7.0" fill="#1a64d6" stroke="#1a64d6" stroke-width="0.3" textLength="64.0" lengthAdjust="spacingAndGlyphs">HDAC1:2-containing</text>
<rect x="234.5" y="251.7" width="64.0" height="0.6" fill="#1a64d6"/>
<text x="253.1" y="259.9" font-family="'Liberation Sans', Arial, sans-serif" font-weight="bold" font-size="7.0" fill="#1a64d6" stroke="#1a64d6" stroke-width="0.3" textLength="26.9" lengthAdjust="spacingAndGlyphs">complex</text>
<rect x="253.1" y="260.8" width="26.9" height="0.6" fill="#1a64d6"/>
<ellipse cx="309.5" cy="281.9" rx="26.0" ry="7.4" fill="#8cda8a" stroke="#6cc46a" stroke-width="0.6"/>
<text x="298.0" y="284.3" font-family="'Liberation Sans', Arial, sans-serif" font-weight="bold" font-size="7.0" fill="#1a64d6" stroke="#1a64d6" stroke-width="0.3" textLength="23.5" lengthAdjust="spacingAndGlyphs">acetate</text>
<rect x="298.0" y="285.2" width="23.5" height="0.6" fill="#1a64d6"/>
<ellipse cx="123.0" cy="294.4" rx="11.6" ry="7.3" fill="#8cda8a" stroke="#6cc46a" stroke-width="0.6"/>
<text x="116.0" y="296.7" font-family="'Liberation Sans', Arial, sans-serif" font-weight="bold" font-size="7.0" fill="#1a64d6" stroke="#1a64d6" stroke-width="0.3" textLength="14.0" lengthAdjust="spacingAndGlyphs">H2O</text>
<rect x="116.0" y="297.6" width="14.0" height="0.6" fill="#1a64d6"/>
<polygon points="71.5,310.9 135.8,310.9 139.0,314.1 139.0,326.5 135.8,329.7 71.5,329.7 68.3,326.5 68.3,314.1" fill="#a4d5e9" stroke="#45a2cf" stroke-width="0.8" stroke-linejoin="round"/>
<text x="78.3" y="318.1" font-family="'Liberation Sans', Arial, sans-serif" font-weight="bold" font-size="7.0" fill="#1a64d6" stroke="#1a64d6" stroke-width="0.3" textLength="50.0" lengthAdjust="spacingAndGlyphs">Acetylated core</text>
<rect x="78.3" y="319.0" width="50.0" height="0.6" fill="#1a64d6"/>
<text x="76.8" y="327.3" font-family="'Liberation Sans', Arial, sans-serif" font-weight="bold" font-size="7.0" fill="#1a64d6" stroke="#1a64d6" stroke-width="0.3" textLength="52.7" lengthAdjust="spacingAndGlyphs">histone octamer</text>
<rect x="76.8" y="328.2" width="52.7" height="0.6" fill="#1a64d6"/>
<polygon points="314.6,294.9 357.0,294.9 360.5,298.4 360.5,317.1 357.0,320.6 314.6,320.6 311.1,317.1 311.1,298.4" fill="#a4d5e9" stroke="#45a2cf" stroke-width="0.8" stroke-linejoin="round"/>
<text x="314.9" y="305.8" font-family="'Liberation Sans', Arial, sans-serif" font-weight="bold" font-size="7.0" fill="#1a64d6" stroke="#1a64d6" stroke-width="0.3" textLength="40.7" lengthAdjust="spacingAndGlyphs">Core histone</text>
<rect x="314.9" y="306.7" width="40.7" height="0.6" fill="#1a64d6"/>
<text x="321.9" y="314.8" font-family="'Liberation Sans', Arial, sans-serif" font-weight="bold" font-size="7.0" fill="#1a64d6" stroke="#1a64d6" stroke-width="0.3" textLength="26.5" lengthAdjust="spacingAndGlyphs">octamer</text>
<rect x="321.9" y="315.7" width="26.5" height="0.6" fill="#1a64d6"/>
<ellipse cx="143.2" cy="350.0" rx="11.2" ry="7.5" fill="#8cda8a" stroke="#6cc46a" stroke-width="0.6"/>
<text x="136.4" y="352.5" font-family="'Liberation Sans', Arial, sans-serif" font-weight="bold" font-size="7.0" fill="#1a64d6" stroke="#1a64d6" stroke-width="0.3" textLength="12.7" lengthAdjust="spacingAndGlyphs">H2O</text>
<rect x="136.4" y="353.4" width="12.7" height="0.6" fill="#1a64d6"/>
<ellipse cx="304.2" cy="354.0" rx="25.2" ry="7.6" fill="#8cda8a" stroke="#6cc46a" stroke-width="0.6"/>
<text x="292.5" y="356.9" font-family="'Liberation Sans', Arial, sans-serif" font-weight="bold" font-size="7.0" fill="#1a64d6" stroke="#1a64d6" stroke-width="0.3" textLength="23.4" lengthAdjust="spacingAndGlyphs">acetate</text>
<rect x="292.5" y="357.8" width="23.4" height="0.6" fill="#1a64d6"/>
<rect x="199.1" y="350.5" width="37.1" height="11.5" rx="2" fill="#67c9bd" stroke="#40b1a4" stroke-width="0.8"/>
<text x="205.2" y="358.9" font-family="'Liberation Sans', Arial, sans-serif" font-weight="bold" font-size="7.0" fill="#1a64d6" stroke="#1a64d6" stroke-width="0.3" textLength="25.5" lengthAdjust="spacingAndGlyphs">HDAC10</text>
<rect x="205.2" y="359.8" width="25.5" height="0.6" fill="#1a64d6"/>
<polygon points="120.8,368.2 215.3,368.2 218.8,371.7 218.8,384.2 215.3,387.7 120.8,387.7 117.3,384.2 117.3,371.7" fill="#a4d5e9" stroke="#45a2cf" stroke-width="0.8" stroke-linejoin="round"/>
<text x="123.6" y="380.6" font-family="'Liberation Sans', Arial, sans-serif" font-weight="bold" font-size="7.0" fill="#1a64d6" stroke="#1a64d6" stroke-width="0.3" textLength="87.9" lengthAdjust="spacingAndGlyphs">HDAC3-containing complex</text>
<rect x="123.6" y="381.5" width="87.9" height="0.6" fill="#1a64d6"/>
<rect x="228.0" y="373.2" width="37.3" height="11.8" rx="2" fill="#67c9bd" stroke="#40b1a4" stroke-width="0.8"/>
<text x="235.7" y="381.5" font-family="'Liberation Sans', Arial, sans-serif" font-weight="bold" font-size="7.0" fill="#1a64d6" stroke="#1a64d6" stroke-width="0.3" textLength="21.8" lengthAdjust="spacingAndGlyphs">HDAC8</text>
<rect x="235.7" y="382.4" width="21.8" height="0.6" fill="#1a64d6"/>
<rect x="218.4" y="298.5" width="6.4" height="6.4" fill="#fff" stroke="#6a6a6a" stroke-width="0.6"/>
<rect x="216.4" y="310.7" width="6.4" height="6.4" fill="#fff" stroke="#6a6a6a" stroke-width="0.6"/>
<rect x="225.7" y="316.9" width="6.4" height="6.4" fill="#fff" stroke="#6a6a6a" stroke-width="0.6"/>
<rect x="238.3" y="329.8" width="6.4" height="6.4" fill="#fff" stroke="#6a6a6a" stroke-width="0.6"/>
<circle cx="225.4" cy="296.4" r="1.9" fill="#fff" stroke="#6a6a6a" stroke-width="0.6"/>
<circle cx="216.4" cy="319.2" r="1.9" fill="#fff" stroke="#6a6a6a" stroke-width="0.6"/>
<circle cx="226.8" cy="325.9" r="1.9" fill="#fff" stroke="#6a6a6a" stroke-width="0.6"/>
<circle cx="241.5" cy="339.0" r="1.9" fill="#fff" stroke="#6a6a6a" stroke-width="0.6"/>
<rect x="152.95" y="294.15" width="6.6" height="6.6" fill="#dde2e6" stroke="#5a4a40" stroke-width="0.6"/>
<text x="153.45" y="299.80" font-family="'Liberation Sans', Arial, sans-serif" font-weight="bold" font-size="6.2" fill="#111" textLength="5.6" lengthAdjust="spacingAndGlyphs">15</text>
<rect x="258.55" y="290.55" width="6.6" height="6.6" fill="#dde2e6" stroke="#5a4a40" stroke-width="0.6"/>
<text x="259.05" y="296.20" font-family="'Liberation Sans', Arial, sans-serif" font-weight="bold" font-size="6.2" fill="#111" textLength="5.6" lengthAdjust="spacingAndGlyphs">15</text>
</svg>
</body></html>
